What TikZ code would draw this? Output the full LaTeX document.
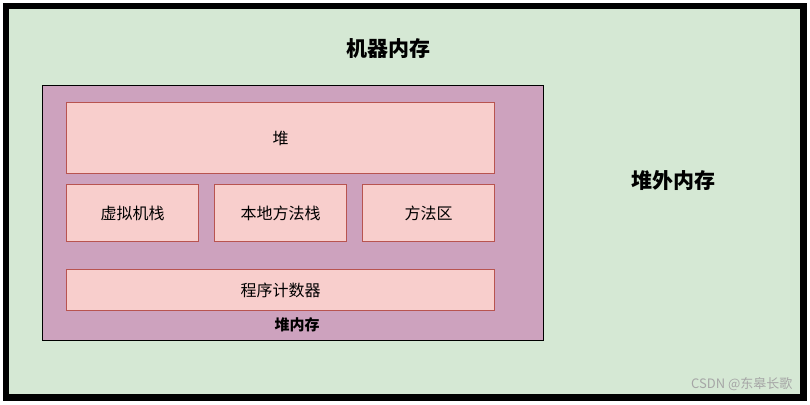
\documentclass[tikz,border=0pt]{standalone}
\usepackage{fontspec}
\setmainfont{Noto Sans CJK SC}
\definecolor{bggreen}{RGB}{213,232,212}
\definecolor{purp}{RGB}{205,162,190}
\definecolor{pinkf}{RGB}{248,206,204}
\definecolor{pinkd}{RGB}{184,84,80}
\tikzset{
 cell/.style={draw=pinkd,fill=pinkf,line width=1pt,font=\fontsize{16}{19}\selectfont},
}
\begin{document}
\begin{tikzpicture}[x=1pt,y=-1pt]
\useasboundingbox (0,0) rectangle (810,404);
\fill[white] (0,0) rectangle (810,404);
\fill[black] (3,3) rectangle (807,401) ;
\fill[bggreen] (9,9) rectangle (800,394);
\node[font=\fontsize{21}{25}\selectfont\bfseries] (t1) at (388,49) {机器内存};
\node[font=\fontsize{21}{25}\selectfont\bfseries] (t2) at (673,181) {堆外内存};
\node[draw=black,fill=purp,line width=1pt,minimum width=501pt,minimum height=255pt,anchor=north west] (heapmem) at (42,85) {};
\node[cell,minimum width=428pt,minimum height=71pt,anchor=north west] (heap) at (66,102) {堆};
\node[cell,minimum width=132pt,minimum height=57pt,anchor=north west] (vms) at (66,184) {虚拟机栈};
\node[cell,minimum width=132pt,minimum height=57pt,anchor=north west] (nms) at (214,184) {本地方法栈};
\node[cell,minimum width=132pt,minimum height=57pt,anchor=north west] (ma) at (362,184) {方法区};
\node[cell,minimum width=428pt,minimum height=41pt,anchor=north west] (pc) at (66,269) {程序计数器};
\node[font=\fontsize{15}{17}\selectfont\bfseries] (hl) at (297,325) {堆内存};
\node[text=gray!70,font=\fontsize{13}{15}\selectfont,anchor=east] (wm) at (796,384) {CSDN @东皋长歌};
\end{tikzpicture}
\end{document}
